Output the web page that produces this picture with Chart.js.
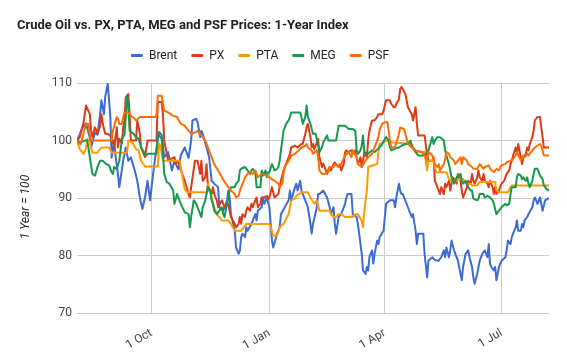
<!DOCTYPE html>
<html><head><meta charset="utf-8">
<script src="https://cdn.jsdelivr.net/npm/chart.js@4"></script>
<style>html,body{margin:0;padding:0;background:#fff}#wrap{width:567px;height:359px}</style>
</head><body><div id="wrap"><canvas id="c" width="567" height="359"></canvas></div>
<script>
// Days counted from 1 Aug of the first year
const seriesNames = ['Brent', 'PX', 'PTA', 'MEG', 'PSF'];
const seriesColors = ['#3d6bd5', '#dc3b17', '#ff9a00', '#14994f', '#ff6d01'];

const brentDays = [3,5,7,10,13,14,17,19,21,22,24,25,27,29,30,32,33,35,36,38,39,41,43,45,48,50,52,54,56,58,60,62,65,67,69,71,74,77,79,82,84,87,90,92,93,96,97,99,100,101,104,106,108,110,113,114,117,120,121,122,123,126,127,129,130,131,132,134,135,136,139,142,143,144,147,148,149,151,153,155,156,159,161,162,165,168,169,170,173,174,175,177,178,181,183,185,186,187,188,190,191,192,195,198,200,201,203,204,205,207,209,212,213,214,217,218,221,222,225,226,228,229,230,231,233,234,235,237,238,239,242,243,244,247,250,251,252,254,255,256,257,260,261,264,265,267,268,269,273,274,276,277,280,282,285,287,289,290,291,293,294,295,297,298,300,302,303,304,306,308,309,311,312,313,315,317,319,321,323,324,325,326,328,329,330,332,333,334,337,338,339,341,342,343,345,346,347,349,350,351,352,354,355,358,359,360,362,364,366,368,371];
const brentValues = [100,101,102.2,103,100.5,98.8,101.4,101,104.6,107,104.6,107.6,109.9,104,97,100,97.5,94,91.9,95,96.5,98.8,96.5,97.1,94.8,93,90.1,88.1,90.1,93,89.6,93.6,98.8,101.5,101,97.1,98,94.8,96.5,95,97.5,98.8,97,100,103.5,103.8,103.2,100.6,101.7,101.2,98.8,97.1,93,92.5,91.9,88.4,87.8,89.6,91.3,90.1,87.2,84.3,81.4,80.3,80.9,83.2,83.8,83.2,84.9,84.3,85.5,87.2,86.1,87.8,88.4,90.1,89,90.1,88.4,82.6,81.4,83.8,84.9,87.2,88.4,89.6,91.3,89.6,91.9,92.5,91.3,93,91.3,89.6,88.4,85.5,83.8,85.5,86.5,88.4,90.7,90.7,91.3,90.1,88.4,87.2,88.4,85.5,83.8,86.7,87.2,89,90.1,90.7,90.7,87.2,86.7,85.5,80.3,77.4,76.8,78,77.4,79.7,80.9,78.6,80.3,82.6,82,83.2,84.3,86.7,89,89.6,89.6,88.4,90.1,92.5,91.3,90.7,90.7,89,88.4,86.7,87.2,84.3,82,83.8,83.8,80.3,76.2,79.1,79.7,79.2,79.1,79.7,80.9,79.7,81.4,79.7,80.9,82.6,80.9,80.3,79.1,76.8,75.7,78,80.3,80.9,79.7,78,76.2,75.1,76.8,79.1,80.3,80.9,79.7,82,78.6,78,77.4,78,75.7,78,78.6,79.1,79.7,80.9,82.6,82,83.2,83.8,84.9,86.1,84.3,84.3,85.5,84.9,86.1,86.7,87.2,88.4,89.6,90.1,89,90.1,87.8,89.6,90];

const pxDays = [3,5,8,9,10,13,14,15,17,19,21,22,23,25,27,30,32,34,35,36,38,39,40,41,43,44,45,49,50,52,53,56,58,65,66,69,70,71,74,79,80,82,84,86,87,90,91,92,95,97,99,100,101,103,104,105,106,108,109,110,112,113,116,118,121,122,123,126,127,129,130,131,132,134,135,136,138,139,140,142,143,144,146,147,149,151,152,153,155,157,160,161,162,164,165,166,168,169,170,173,175,178,179,181,182,183,185,186,187,188,191,192,194,195,196,198,199,200,201,203,204,205,207,208,209,211,212,213,214,217,218,220,221,222,224,225,226,227,229,230,231,233,235,237,238,241,242,243,244,247,248,250,251,252,254,255,256,257,259,260,261,264,265,267,268,269,272,274,276,277,280,281,282,284,286,287,289,290,291,293,294,295,296,298,299,300,302,303,304,306,307,308,310,311,312,313,315,316,317,319,320,321,323,324,325,327,328,329,330,332,333,334,336,337,338,340,341,342,343,345,346,347,349,350,351,353,354,355,356,358,359,360,362,364,365,367,371];
const pxValues = [100,100.5,103,104.5,106.1,104.6,101.7,100.6,102.3,101.2,102.5,104.6,103,101.2,101.2,100.6,98.8,102.3,98.8,100.3,99.5,102.3,103.5,107.5,108.1,104.6,100,100,103.5,101.2,98.8,97.1,100,100,106.7,106.7,104.6,100,96.5,97.1,95.9,96.5,94.8,93.6,93,90.7,90.1,91.9,96.5,96.5,94.2,96.5,93,93.6,95.9,92.5,91.3,90.7,91.9,90.7,89.6,88.4,89.6,88.4,89,87.8,86.7,85.5,84.9,85.5,86.7,85.5,87.2,86.7,87.8,88.4,87.8,89,88.4,89.6,90.1,88.4,89,90.1,90.1,90.4,89.8,90.1,91.9,90.1,90.7,91.9,93,94.8,95.4,95.9,97.1,97.7,98.8,99.1,98.8,99.4,99.4,101.2,102.3,102.9,100.6,98.8,99.4,98.5,100.3,97.1,95.4,96,95.4,94.2,95,95.4,94.8,95.9,96.2,95.9,95.4,95.9,94.8,95.9,98,98.3,98,98.3,97.7,98.3,97.1,95.9,97.1,95.4,96.5,98,97.1,100,101.7,103.5,103.5,104.1,104.6,104.6,105.2,106.1,107,107,106.4,105.8,105.8,106.4,107.2,109,109.3,109,108.1,107,105.8,104.6,103.5,105.8,102.9,100.9,100.9,100.9,97.4,96.5,96.5,97.1,93,91.9,90.7,91.9,90.7,92.5,91.9,93,91.3,92.5,93.6,93,92.5,94.2,93,91.3,90.1,91.3,91.9,93,92.5,94.2,93,92.5,93.6,94.8,93.6,93,94.2,93,92.5,91.9,93,91.9,90.7,91.9,90.7,91.3,91.9,92.5,93,93.6,94.2,94.8,95.9,96.5,97.4,98.8,97.7,99.4,97.1,95.9,97.1,97.7,98.8,98.3,99.4,100.6,101.7,103.5,104.1,104.1,102.3,98.8,98.8];

const ptaDays = [3,5,8,10,11,13,15,19,22,28,30,42,43,46,49,51,53,56,66,67,68,70,83,85,87,89,104,105,106,109,110,112,116,121,123,126,131,135,153,155,156,159,161,164,168,169,170,173,174,178,183,185,188,190,192,200,201,203,205,207,209,212,218,220,222,225,226,227,229,230,234,237,238,239,242,244,248,264,265,268,274,276,277,281,282,283,291,293,295,299,300,304,306,310,311,315,317,320,329,330,332,339,341,342,371];
const ptaValues = [100,98.6,97.7,98.6,100.3,99.7,97.9,97.9,98.8,98.8,97.9,97.9,100,99.7,98.5,98.3,96.5,95.5,95.5,99.5,99,96.5,96.5,94,91.5,91,91,92.5,91.9,89,88.4,87.2,86.1,86.1,85.5,84.3,84.3,85.5,85.5,84.3,83.5,83.5,84.9,85.5,87.2,88.4,89.6,89.9,90.4,91,91,90.1,89,89.6,87.8,87.8,87.2,86.7,86.7,87.2,87.2,86.7,86.7,87.2,87.2,86,84.9,87.8,91.3,95.4,95.7,95.9,98,99.4,99.7,100,99.7,99.4,98.8,98,98,94.8,96.5,96.5,95.4,94.5,94.5,93.3,93,93,93.3,93.3,92.5,92.5,92.2,92.2,92.8,92.8,92.8,91.3,91,91,91.9,92.2,92.2];

const megDays = [3,6,9,11,13,15,17,19,21,23,26,28,30,31,32,34,36,38,40,41,42,43,44,47,49,51,53,56,57,58,65,66,69,70,71,73,75,78,79,81,82,84,87,90,91,92,94,96,97,100,101,103,104,105,107,108,109,110,112,114,116,117,118,120,121,122,123,126,127,129,130,131,134,136,138,139,140,142,143,146,147,148,150,151,152,153,155,156,157,159,160,161,163,164,165,166,168,169,170,177,178,179,181,182,183,185,186,187,189,191,192,194,195,198,199,205,207,212,215,218,220,221,222,224,225,226,227,230,233,235,238,241,243,244,246,247,248,251,254,256,259,261,263,264,265,267,269,274,277,280,281,282,284,286,289,290,291,293,294,295,297,299,302,303,304,306,307,308,310,311,312,315,316,317,320,321,323,325,327,328,329,330,332,333,334,337,338,340,341,342,345,346,347,349,350,351,353,354,355,356,358,359,360,362,363,364,366,367,368,369,371];
const megValues = [100,99.7,100,100,97.1,94.2,93.9,95.4,96.5,96.5,95.9,95.7,94.5,94.2,95.4,95,96.5,100.3,101,104,107.8,106,101.7,101.2,100.6,100.3,98.8,97.7,97.4,97.7,97.7,101.2,100.3,97.7,94.2,92.8,92.5,91.3,89,90.7,90.1,89,87.5,87.2,84.9,86.7,89.6,89,88.4,86.7,88.4,89.6,90.7,91.9,91.3,89.6,89,87.8,87.2,87.8,88.4,87.2,86.7,89,90.1,91.3,91.9,91.9,92.5,93,94.8,95.1,95.4,94.8,94.2,94.8,95.1,94.5,91.9,91.9,94.8,93.9,94.8,93.6,94.5,94.5,95.9,95.4,94.8,95.1,95.4,96.5,100,101.7,102.3,102.9,103.5,104.1,104.9,104.9,104.1,102.9,104.1,106.1,104.1,102.9,102,101.2,101.2,99.4,98,98.8,99.7,100.9,100,100,102.6,102.6,102,102,101.7,98.3,97.7,98.3,99.1,100.9,98,97.7,98.3,98,98.6,99.4,100.3,100.6,100,98.8,98.3,98.6,98.8,99.1,99.4,99.4,100,99.1,98.6,98,97.4,97.4,98.3,100.6,99.4,100,100.6,100.6,100,98.3,97.4,95.9,94.8,93.6,92.5,93.6,94.2,93,92.5,93,92.5,91.9,91.3,91.3,89.9,89.6,89.9,90.7,90.7,90.1,90.4,90.1,89.6,89,88.1,87.2,87.8,88.1,88.4,89,88.7,89,90.7,91.9,91.9,93.6,94.2,93.9,93.3,93.6,93,93.6,92.5,91.9,93,94.2,95.1,95.1,94.5,93.9,93.3,92.2,91.9,91.6,91.3];

const psfDays = [3,5,6,8,10,12,13,14,27,30,31,34,35,36,38,39,40,43,45,48,49,52,64,65,66,69,71,74,78,81,84,87,90,92,95,97,100,103,105,108,110,113,116,118,121,123,126,127,129,130,131,133,134,136,138,140,142,144,147,151,153,157,160,161,163,164,165,168,170,173,176,178,181,182,183,186,187,190,191,192,194,196,199,200,203,204,207,209,212,215,217,218,221,222,225,228,230,233,235,237,238,239,241,243,245,246,247,248,251,254,255,258,259,260,261,264,267,272,274,276,277,280,282,284,285,286,289,290,291,293,294,297,298,300,302,303,304,307,308,311,312,315,317,320,321,324,325,328,330,332,333,334,337,338,341,343,345,346,349,351,352,354,355,358,360,362,364,365,367,371];
const psfValues = [100,99.4,99.4,101.2,102.9,102.9,101,100,100,100,101.7,104.1,103.8,102.9,102.9,104.1,104.9,104.9,104.3,103.8,103.5,104.1,104.1,104.5,107.8,107.8,105.2,104.9,104.3,104.1,102.9,102.6,101.7,101.2,101.4,101.7,100.9,100,98.8,97.1,95.9,94.8,93.6,92.8,91.9,91.3,90.7,90.1,90.4,91.3,91.9,93,93.6,94.2,94.5,94.2,94.8,93.6,94.2,93.9,93.6,93,92.5,91.9,92.5,94.2,95.4,96.5,97.4,97.7,98.3,98.8,99.1,99.4,98.8,98.3,97.7,98.3,97.1,94.8,94.2,94.2,94.5,95.4,95.4,95.9,95.4,95.9,97.4,98,97.1,98.3,97.1,95.9,95.4,96.5,97.1,97.7,98.8,100,100.6,102,102.9,103.2,103.2,101.7,100,98.8,98.8,101.2,102.3,102,101.2,100.3,99.4,98.8,98.3,98,97.4,96.5,98,97.4,95.9,95.4,95.9,94.8,95.9,96.8,98,97.7,97.1,96.5,95.9,96.5,97.1,95.9,97.1,96.5,95.9,95.4,95.1,95.1,95.9,95.1,95.4,95.7,95.1,94.5,95.1,94.8,95.4,95.7,95.9,96.2,96.5,96.8,97.4,98,96.5,97.4,97.1,97.7,97.4,98.3,98.8,99.1,99.4,99.1,97.4,97.4];

const tickDays = [61, 153, 243, 334];
const tickLabels = ['1 Oct', '1 Jan', '1 Apr', '1 Jul'];
const yTickValues = [70, 80, 90, 100, 110];

const allDays = [brentDays, pxDays, ptaDays, megDays, psfDays];
const allValues = [brentValues, pxValues, ptaValues, megValues, psfValues];

const datasets = seriesNames.map((name, i) => ({
  label: name,
  data: allDays[i].map((d, k) => ({x: d, y: allValues[i][k]})),
  borderColor: seriesColors[i],
  backgroundColor: seriesColors[i],
  borderWidth: 2,
  pointRadius: 0,
  tension: 0,
  borderJoinStyle: 'round',
  order: seriesNames.length - i
}));

const FONT = 'Roboto, "Noto Sans", Arial, sans-serif';

const layoutTweaks = {
  id: 'layoutTweaks',
  beforeInit(chart) {
    const lg = chart.legend;
    if (!lg) return;
    const fit = lg.fit;
    lg.fit = function () { fit.call(this); this.height += 11.5; };
  },
  afterLayout(chart) {
    const lg = chart.legend;
    if (lg) { lg.left -= 23; lg.right -= 23; }
    const y = chart.scales.y;
    if (y && !y._titleShifted) {
      const orig = y.drawTitle;
      y.drawTitle = function () {
        this.top += 9; this.bottom += 9;
        orig.call(this);
        this.top -= 9; this.bottom -= 9;
      };
      y._titleShifted = true;
    }
  }
};

new Chart(document.getElementById('c'), {
  type: 'line',
  data: {datasets},
  plugins: [layoutTweaks],
  options: {
    responsive: false,
    devicePixelRatio: 1,
    animation: false,
    layout: {padding: {left: 17, right: 18, top: 0, bottom: 0}},
    plugins: {
      title: {
        display: true,
        text: 'Crude Oil vs. PX, PTA, MEG and PSF Prices: 1-Year Index',
        align: 'start',
        color: '#212121',
        font: {family: FONT, size: 13, weight: 'bold'},
        padding: {top: 18, bottom: 2}
      },
      legend: {
        display: true,
        position: 'top',
        align: 'center',
        labels: {
          boxWidth: 12, boxHeight: 3, padding: 14,
          color: '#222',
          font: {family: FONT, size: 12},
          useBorderRadius: true, borderRadius: 1,
          sort: (a, b) => a.datasetIndex - b.datasetIndex,
          generateLabels(chart) {
            const items = Chart.defaults.plugins.legend.labels.generateLabels(chart);
            items.forEach(it => { it.lineWidth = 0; it.fillStyle = it.strokeStyle; });
            return items;
          }
        }
      },
      tooltip: {enabled: false}
    },
    scales: {
      x: {
        type: 'linear',
        min: 3, max: 371,
        afterBuildTicks: s => { s.ticks = tickDays.map(v => ({value: v})); },
        afterFit: s => { s.height = 46; },
        grid: {color: '#cccccc', drawTicks: false},
        border: {display: false},
        ticks: {
          minRotation: 30, maxRotation: 30, padding: 13,
          color: '#444', font: {family: FONT, size: 12},
          callback: v => tickLabels[tickDays.indexOf(v)] ?? ''
        }
      },
      y: {
        min: 70, max: 110,
        afterBuildTicks: s => { s.ticks = yTickValues.map(v => ({value: v})); },
        afterFit: s => { s.width = 60; },
        grid: {color: '#cccccc', drawTicks: false},
        border: {display: false},
        ticks: {padding: 5, color: '#444', font: {family: FONT, size: 12}},
        title: {
          display: true, text: '1 Year = 100', color: '#222',
          font: {family: FONT, size: 12, style: 'italic'},
          padding: {top: 2, bottom: 0}
        }
      }
    }
  }
});
</script></body></html>
